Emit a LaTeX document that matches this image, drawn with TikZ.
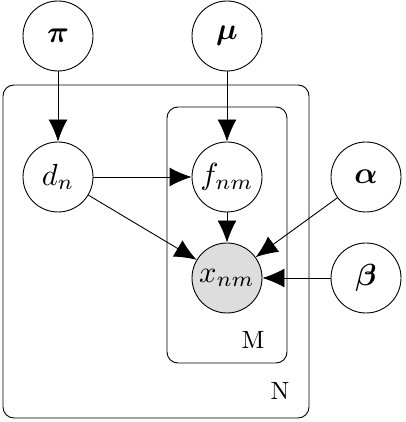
\documentclass[tikz,border=0pt]{standalone}
\usepackage{amsmath}
\usepackage{bm}
\usepackage{graphicx}
\usetikzlibrary{arrows.meta}

\newcommand{\varlabel}[1]{\scalebox{3.05}{$#1$}}
\newcommand{\platetext}[1]{\scalebox{2.5}{#1}}

\begin{document}
\begin{tikzpicture}[x=1pt,y=1pt,>={Latex[length=22pt,width=19pt]},line width=0.9pt,
    var/.style={circle,draw,minimum size=70pt,inner sep=0pt},
    obs/.style={var,fill=gray!27},
    plate/.style={draw,rounded corners=11pt}]
  \useasboundingbox (0,0) rectangle (405,422);
  \begin{scope}
    % plates
    \draw[plate] (3,4) rectangle (309,337);
    \draw[plate] (167,59) rectangle (287,315);
    \node (N) at (280,31) {\platetext{N}};
    \node (M) at (253,82) {\platetext{M}};
    % variables
    \node[var] (pi) at (58,386) {\varlabel{\bm{\pi}}};
    \node[var] (mu) at (227,386) {\varlabel{\bm{\mu}}};
    \node[var] (d) at (58,245) {\varlabel{d_n}};
    \node[var] (f) at (227,245) {\varlabel{f_{nm}}};
    \node[var] (alpha) at (366,245) {\varlabel{\bm{\alpha}}};
    \node[obs] (x) at (227,144) {\varlabel{x_{nm}}};
    \node[var] (beta) at (366,144) {\varlabel{\bm{\beta}}};
    % edges
    \draw[->] (pi)--(d);
    \draw[->] (mu)--(f);
    \draw[->] (d)--(f);
    \draw[->] (d)--(x);
    \draw[->] (f)--(x);
    \draw[->] (alpha)--(x);
    \draw[->] (beta)--(x);
  \end{scope}
\end{tikzpicture}
\end{document}
